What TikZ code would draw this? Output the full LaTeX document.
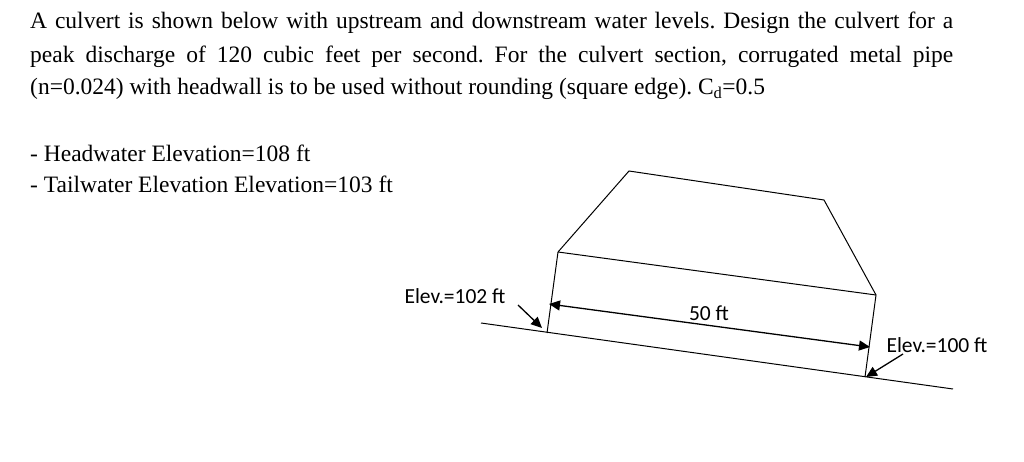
\documentclass[tikz,border=0pt]{standalone}
\usepackage{fontspec}
\setmainfont{Liberation Serif}
\newfontfamily\lblfont{Carlito}
\usetikzlibrary{arrows.meta}
\begin{document}
\frenchspacing
\begin{tikzpicture}[x=1pt,y=-1pt,
  txt/.style={anchor=west,inner sep=0pt,font=\fontsize{23.5}{26}\selectfont},
  lbl/.style={inner sep=0pt,font=\lblfont\fontsize{21.5}{24}\selectfont},
  ln/.style={line width=1pt},
  arr/.style={-{Triangle[length=11pt,width=10pt]},line width=1.3pt}]
\useasboundingbox (0,0) rectangle (1024,462);
\node[txt] (l1) at (30,23) {\makebox[923pt][s]{A culvert is shown below with upstream and downstream water levels. Design the culvert for a}};
\node[txt] (l2) at (30,57) {\makebox[923pt][s]{peak discharge of 120 cubic feet per second. For the culvert section, corrugated metal pipe}};
\node[txt] (l3) at (30,89) {(n=0.024) with headwall is to be used without rounding (square edge). C\textsubscript{d}=0.5};
\node[txt] (b1) at (30,153) {- Headwater Elevation=108 ft};
\node[txt] (b2) at (30,184) {- Tailwater Elevation Elevation=103 ft};
\coordinate (g1) at (481,323); \coordinate (g2) at (953,389);
\coordinate (lb) at (547,333); \coordinate (lt) at (558,252);
\coordinate (ta) at (629,171); \coordinate (tb) at (824,200);
\coordinate (rt) at (876,295); \coordinate (rb) at (865,377);
\draw[ln] (g1) -- (g2);
\draw[ln] (lb) -- (lt) -- (ta) -- (tb) -- (rt) -- (rb);
\draw[ln] (lt) -- (rt);
\coordinate (d1) at (549,304); \coordinate (d2) at (870,347);
\draw[{Triangle[length=11pt,width=10pt]}-{Triangle[length=11pt,width=10pt]},line width=1.3pt] (d1) -- (d2);
\node[lbl] (dl) at (709,313) {50 ft};
\node[lbl] (e1) at (455,296) {Elev.=102 ft};
\coordinate (a1s) at (518,305); \coordinate (a1e) at (542,328);
\draw[arr] (a1s) -- (a1e);
\node[lbl] (e2) at (937,345) {Elev.=100 ft};
\coordinate (a2s) at (903,354); \coordinate (a2e) at (866,377);
\draw[arr] (a2s) -- (a2e);
\end{tikzpicture}
\end{document}
